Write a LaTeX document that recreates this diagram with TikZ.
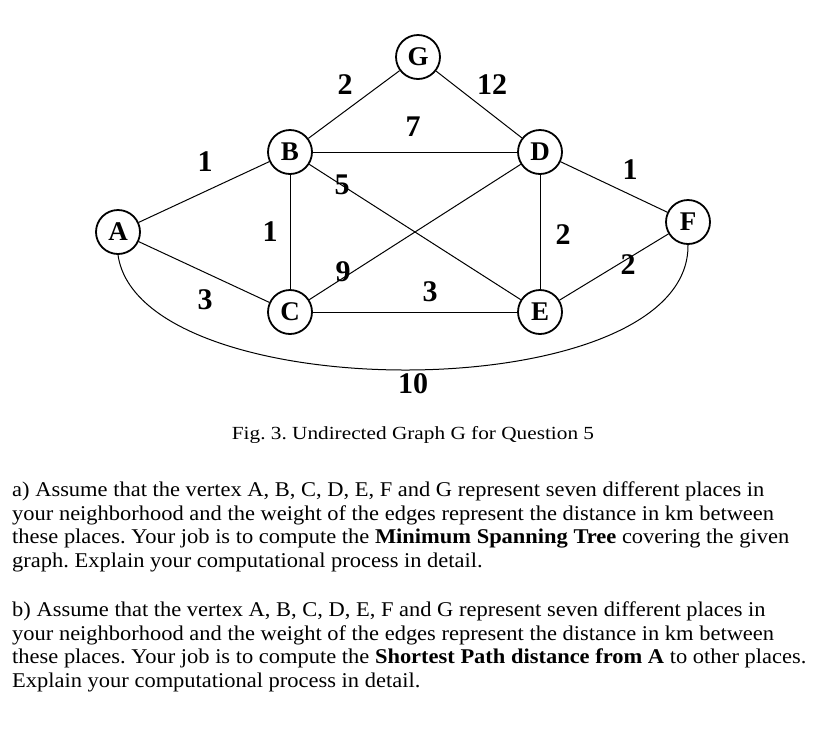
\documentclass[tikz,border=0pt]{standalone}
\usepackage{fontspec}
\setmainfont{Liberation Serif}
\begin{document}
\begin{tikzpicture}[x=1pt,y=-1pt,
  vtx/.style={circle,draw,line width=1.8pt,minimum size=44pt,inner sep=0pt,font=\fontsize{27}{27}\selectfont\bfseries},
  edge/.style={line width=1pt},
  wt/.style={font=\fontsize{30}{30}\selectfont\bfseries,inner sep=0pt},
  body/.style={anchor=north west,align=left,inner sep=0pt,xscale=1.07,font=\frenchspacing\fontsize{21}{23.4}\selectfont}]
\useasboundingbox (0,0) rectangle (838,729);
\node[vtx] (G) at (418,57) {G};
\node[vtx] (B) at (290,152) {B};
\node[vtx] (D) at (540,152) {D};
\node[vtx] (A) at (118,232) {A};
\node[vtx] (F) at (688,222) {F};
\node[vtx] (C) at (290,312) {C};
\node[vtx] (E) at (540,312) {E};
\draw[edge] (A)--(B); \draw[edge] (A)--(C);
\draw[edge] (B)--(G); \draw[edge] (G)--(D);
\draw[edge] (B)--(D); \draw[edge] (B)--(C);
\draw[edge] (B)--(E); \draw[edge] (C)--(D);
\draw[edge] (C)--(E); \draw[edge] (D)--(E);
\draw[edge] (D)--(F); \draw[edge] (E)--(F);
\draw[edge] (A.south) .. controls (140,410) and (690,410) .. (F.south);
\node[wt] (w1) at (345,85) {2};
\node[wt] (w2) at (492,85) {12};
\node[wt] (w3) at (413,127) {7};
\node[wt] (w4) at (205,162) {1};
\node[wt] (w5) at (342,185) {5};
\node[wt] (w6) at (630,170) {1};
\node[wt] (w7) at (270,232) {1};
\node[wt] (w8) at (563,235) {2};
\node[wt] (w9) at (343,272) {9};
\node[wt] (w10) at (430,292) {3};
\node[wt] (w11) at (628,265) {2};
\node[wt] (w12) at (205,300) {3};
\node[wt] (w13) at (413,384) {10};
\node[xscale=1.15,font=\frenchspacing\fontsize{18.5}{20}\selectfont] (cap) at (413,435) {Fig. 3. Undirected Graph G for Question 5};
\node[body] (pa) at (12,482) {a) Assume that the vertex A, B, C, D, E, F and G represent seven different places in\\
your neighborhood and the weight of the edges represent the distance in km between\\
these places. Your job is to compute the \textbf{Minimum Spanning Tree} covering the given\\
graph. Explain your computational process in detail.};
\node[body] (pb) at (12,602) {b) Assume that the vertex A, B, C, D, E, F and G represent seven different places in\\
your neighborhood and the weight of the edges represent the distance in km between\\
these places. Your job is to compute the \textbf{Shortest Path distance from A} to other places.\\
Explain your computational process in detail.};
\end{tikzpicture}
\end{document}
